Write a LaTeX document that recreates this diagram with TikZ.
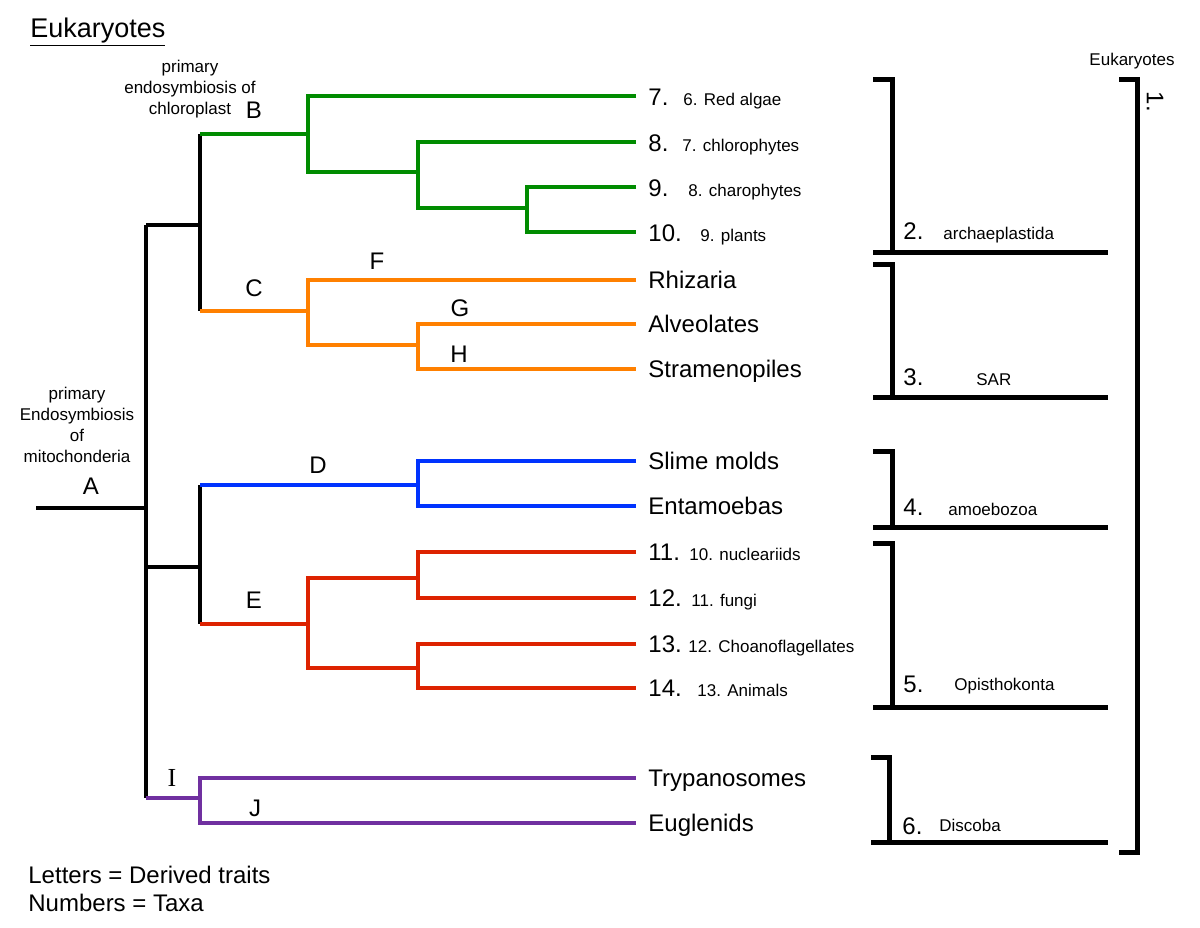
\documentclass[tikz,border=0pt]{standalone}
\usepackage{fontspec}
\setmainfont{Liberation Sans}
\newfontfamily\serifI{Liberation Serif}
\usepackage{xcolor}
\usepackage{tikz}
\usetikzlibrary{positioning,calc}
\definecolor{grn}{RGB}{0,140,0}
\definecolor{org}{RGB}{255,128,0}
\definecolor{blu}{RGB}{0,51,255}
\definecolor{rd}{RGB}{221,34,0}
\definecolor{pur}{RGB}{112,48,160}
\tikzset{
  tree/.style={line width=2pt},
  brk/.style={line width=2.5pt},
  big/.style={font=\fontsize{12}{14}\selectfont, inner sep=0pt, anchor=base west},
  sml/.style={font=\fontsize{8.5}{10}\selectfont, inner sep=0pt, anchor=base west},
  trait/.style={font=\fontsize{12}{14}\selectfont, inner sep=0pt},
  note/.style={font=\fontsize{8.5}{10.5}\selectfont, align=center, inner sep=0pt},
}
\begin{document}
\begin{tikzpicture}[x=0.5pt, y=-0.5pt]
\useasboundingbox (0,0) rectangle (1200,927);
% branch points
\coordinate (root) at (36,508);
\coordinate (n1) at (146,508);
\coordinate (n2) at (200,225);
\coordinate (n3) at (200,567);
\coordinate (p1) at (200,798);
\coordinate (g1) at (308,134); \coordinate (g2) at (418,172); \coordinate (g3) at (527,208);
\coordinate (o1) at (308,311); \coordinate (o2) at (418,345);
\coordinate (b1) at (418,485);
\coordinate (r1) at (308,624); \coordinate (r2) at (418,578); \coordinate (r3) at (418,668);
% leaves
\coordinate (lRed) at (636,96);  \coordinate (lChl) at (636,142);
\coordinate (lCha) at (636,187); \coordinate (lPla) at (636,232);
\coordinate (lRhi) at (636,280); \coordinate (lAlv) at (636,324); \coordinate (lStr) at (636,369);
\coordinate (lSli) at (636,461); \coordinate (lEnt) at (636,506);
\coordinate (lNuc) at (636,552); \coordinate (lFun) at (636,598);
\coordinate (lCho) at (636,644); \coordinate (lAni) at (636,688);
\coordinate (lTry) at (636,778); \coordinate (lEug) at (636,823);

% black backbone
\draw[tree] (root) -- (n1);
\draw[tree] (n1 |- n2) -- (n1 |- p1);
\draw[tree] (n1 |- n2) -- (n2);
\draw[tree] (n2 |- g1) -- (n2 |- o1);
\draw[tree] (n1 |- n3) -- (n3);
\draw[tree] (n3 |- b1) -- (n3 |- r1);
% archaeplastida
\draw[tree, grn] (n2 |- g1) -- (g1);
\draw[tree, grn] (lRed) -| (g1) |- (g2);
\draw[tree, grn] (lChl) -| (g2) |- (g3);
\draw[tree, grn] (lCha) -| (g3) |- (lPla);
% SAR
\draw[tree, org] (n2 |- o1) -- (o1);
\draw[tree, org] (lRhi) -| (o1) |- (o2);
\draw[tree, org] (lAlv) -| (o2) |- (lStr);
% amoebozoa
\draw[tree, blu] (n3 |- b1) -- (b1);
\draw[tree, blu] (lSli) -| (b1) |- (lEnt);
% opisthokonta
\draw[tree, rd] (n3 |- r1) -- (r1);
\draw[tree, rd] (r2) -| (r1) |- (r3);
\draw[tree, rd] (lNuc) -| (r2) |- (lFun);
\draw[tree, rd] (lCho) -| (r3) |- (lAni);
% discoba
\draw[tree, pur] (n1 |- p1) -- (p1);
\draw[tree, pur] (lTry) -| (p1) |- (lEug);

% traits
\node[trait] (tA) at (91,486) {A};
\node[trait] (tB) at (254,110) {B};
\node[trait] (tC) at (254,288) {C};
\node[trait] (tD) at (318,465) {D};
\node[trait] (tE) at (254,600) {E};
\node[trait] (tF) at (377,261) {F};
\node[trait] (tG) at (460,308) {G};
\node[trait] (tH) at (459,354) {H};
\node[trait, font=\fontsize{13}{14}\serifI] (tI) at (172,778) {I};
\node[trait] (tJ) at (255,808) {J};
\node[note] (chl) at (190,89) {primary\\endosymbiosis of\\chloroplast};
\node[note] (mit) at (77,425) {primary\\Endosymbiosis\\of\\mitochonderia};

% leaf labels
\node[big] (t7) at (648,105) {7.};   \node[sml] (s6) at (683,105) {6. Red algae};
\node[big] (t8) at (648,151) {8.};   \node[sml] (s7) at (682,151) {7. chlorophytes};
\node[big] (t9) at (648,196) {9.};   \node[sml] (s8) at (688,196) {8. charophytes};
\node[big] (t10) at (648,241) {10.}; \node[sml] (s9) at (700,241) {9. plants};
\node[big] (tRhi) at (648,288) {Rhizaria};
\node[big] (tAlv) at (648,332) {Alveolates};
\node[big] (tStr) at (648,377) {Stramenopiles};
\node[big] (tSli) at (648,469) {Slime molds};
\node[big] (tEnt) at (648,514) {Entamoebas};
\node[big] (t11) at (648,560) {11.}; \node[sml] (s10) at (689,560) {10. nucleariids};
\node[big] (t12) at (648,606) {12.}; \node[sml] (s11) at (691,606) {11. fungi};
\node[big] (t13) at (648,652) {13.}; \node[sml] (s12) at (688,652) {12. Choanoflagellates};
\node[big] (t14) at (648,696) {14.}; \node[sml] (s13) at (697,696) {13. Animals};
\node[big] (tTry) at (648,786) {Trypanosomes};
\node[big] (tEug) at (648,831) {Euglenids};

% clade brackets
\draw[brk] (873,79) -| (892,252);  \draw[brk] (873,252) -- (1108,252);
\draw[brk] (873,264) -| (892,397); \draw[brk] (873,397) -- (1108,397);
\draw[brk] (873,451) -| (892,527); \draw[brk] (873,527) -- (1108,527);
\draw[brk] (873,543) -| (892,707); \draw[brk] (873,707) -- (1108,707);
\draw[brk] (871,757) -| (889,842); \draw[brk] (871,842) -- (1108,842);
\draw[brk] (1119,79) -| (1137,852) -- (1119,852);
\node[big] (c2) at (903,239) {2.}; \node[sml] (k2) at (943,239) {archaeplastida};
\node[big] (c3) at (903,385) {3.}; \node[sml] (k3) at (976,385) {SAR};
\node[big] (c4) at (903,515) {4.}; \node[sml] (k4) at (948,515) {amoebozoa};
\node[big] (c5) at (903,692) {5.}; \node[sml] (k5) at (954,690) {Opisthokonta};
\node[big] (c6) at (902,834) {6.}; \node[sml] (k6) at (939,831) {Discoba};
\node[sml, anchor=center] (euk) at (1132,61) {Eukaryotes};
\node[trait, rotate=-90] (c1) at (1155,102) {1.};

% title and key
\node[big, font=\fontsize{13.5}{16}\selectfont] (title) at (30,37) {\underline{Eukaryotes}};
\node[big] (key1) at (28,883) {Letters = Derived traits};
\node[big] (key2) at (28,911) {Numbers = Taxa};
\end{tikzpicture}
\end{document}
